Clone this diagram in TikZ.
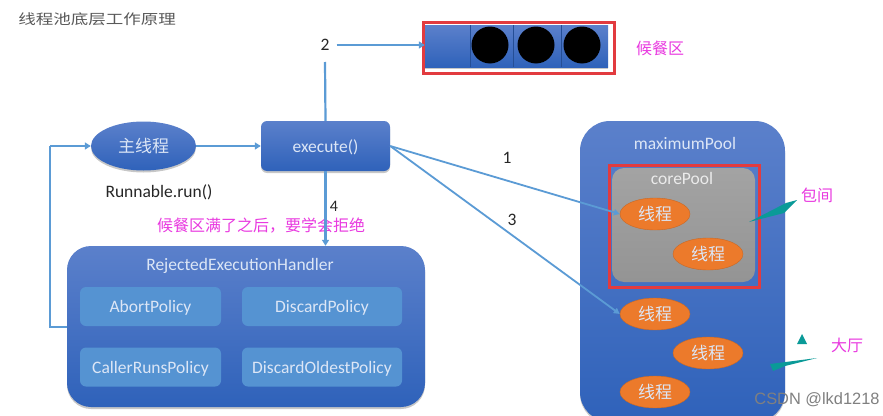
\documentclass[tikz,border=0pt]{standalone}
\usepackage{fontspec}
\setmainfont{Carlito}
\newfontfamily\cjk{Noto Sans CJK SC}
\usetikzlibrary{arrows.meta,shapes.geometric,shadows}
\definecolor{linkblue}{HTML}{5B9BD5}
\definecolor{bluetop}{HTML}{5B80CB}
\definecolor{bluebot}{HTML}{2F62BA}
\definecolor{subblue}{HTML}{5593D2}
\definecolor{orangeth}{HTML}{EC7A2B}
\definecolor{lightlabel}{HTML}{DCE6F6}
\definecolor{redframe}{HTML}{E23B3F}
\definecolor{pinklabel}{HTML}{E93AE0}
\definecolor{tealmark}{HTML}{0A9A98}
\tikzset{
  softshadow/.style={drop shadow={shadow xshift=0pt,shadow yshift=-2pt,opacity=.22,fill=black}},
  bluefill/.style={top color=bluetop,bottom color=bluebot,draw=none},
  blockbox/.style={bluefill,softshadow,rectangle,rounded corners=6pt,inner sep=0pt,text=lightlabel,text height=12pt,text depth=0pt,font=\fontsize{17.5}{18}\selectfont},
  policybox/.style={rectangle,rounded corners=6pt,fill=subblue,minimum width=#1,minimum height=39pt,inner sep=0pt,text=lightlabel,text height=12pt,text depth=0pt,font=\fontsize{17.5}{18}\selectfont},
  worker/.style={ellipse,fill=orangeth,draw=orangeth!85!black,line width=.4pt,minimum width=70pt,minimum height=32pt,inner sep=0pt,text=lightlabel,font=\cjk\fontsize{17}{17}\selectfont},
  frameboxr/.style={rectangle,draw=redframe,line width=3pt,fill=none,inner sep=0pt},
  link/.style={draw=linkblue,line width=2.2pt},
  linkarrow/.style={link,-{Triangle[length=6pt,width=7pt]}},
  thinarrow/.style={draw=linkblue,line width=1.8pt,-{Triangle[length=6pt,width=6pt]}},
  pinktext/.style={text=pinklabel,inner sep=0pt,font=\cjk\fontsize{16}{16}\selectfont},
  darktext/.style={text=black!85,inner sep=0pt,font=\fontsize{17.5}{18}\selectfont},
  headlabel/.style={text=lightlabel,inner sep=0pt,font=\fontsize{17.5}{18}\selectfont},
  token/.style={circle,fill=black,minimum size=37pt,inner sep=0pt},
  tealshape/.style={fill=tealmark,draw=none}
}
\begin{document}
\begin{tikzpicture}[x=1pt,y=-1pt]
\useasboundingbox (0,0) rectangle (883,415);
\clip (0,0) rectangle (883,415);
\fill[white] (0,0) rectangle (883,415);

\node[text=black!65,inner sep=0pt,font=\cjk\fontsize{17.5}{18}\selectfont,yscale=.8] (title) at (97,19) {线程池底层工作原理};

% queue
\node[rectangle,bluefill,softshadow,minimum width=183pt,minimum height=42pt,inner sep=0pt] (queue) at (516.5,46) {};
\draw[bluebot!80!black,line width=.6pt] (470,25) -- (470,67) (513,25) -- (513,67) (561,25) -- (561,67);
\node[token] (t1) at (490,45) {};
\node[token] (t2) at (536,45) {};
\node[token] (t3) at (582,45) {};
\node[frameboxr,minimum width=191pt,minimum height=51pt] (qframe) at (518.5,48) {};
\node[pinktext] (qlabel) at (660,48) {候餐区};

% main flow
\node[ellipse,bluefill,softshadow,minimum width=105pt,minimum height=49pt,inner sep=0pt,text=lightlabel,font=\cjk\fontsize{17}{17}\selectfont] (main) at (143.5,146) {主线程};
\node[blockbox,minimum width=129pt,minimum height=50pt] (exec) at (325.5,146) {execute()};
\node[darktext] (runnable) at (159,192) {Runnable.run()};
\node[darktext] (n2) at (325,45) {2};
\node[text=black!85,inner sep=0pt,font=\fontsize{16}{16}\selectfont] (n4) at (334,206) {4};
\node[darktext] (n1) at (507,158) {1};
\node[darktext] (n3) at (512,220) {3};
\node[pinktext] (reject) at (261,226) {候餐区满了之后，要学会拒绝};

% handler
\node[rectangle,bluefill,softshadow,rounded corners=24pt,minimum width=358pt,minimum height=161pt,inner sep=0pt] (handler) at (246,326.5) {};
\node[headlabel] (hlabel) at (240,266) {RejectedExecutionHandler};
\node[policybox=141pt] (abort) at (150.5,306.5) {AbortPolicy};
\node[policybox=160pt] (discard) at (322,306.5) {DiscardPolicy};
\node[policybox=141pt] (caller) at (150.5,367) {CallerRunsPolicy};
\node[policybox=160pt] (oldest) at (322,367) {DiscardOldestPolicy};

% maximum pool
\node[rectangle,bluefill,softshadow,rounded corners=30pt,minimum width=205pt,minimum height=301pt,inner sep=0pt] (maxpool) at (682.5,271.5) {};
\node[headlabel] (maxlabel) at (685,143) {maximumPool};
\node[rectangle,top color=black!36,bottom color=black!42,rounded corners=12pt,minimum width=143pt,minimum height=114pt,inner sep=0pt] (core) at (683.5,225) {};
\node[frameboxr,minimum width=150pt,minimum height=122pt] (cframe) at (684,226) {};
\node[headlabel,text=black!8] (corelabel) at (682,178) {corePool};
\node[worker] (w1) at (655,214) {线程};
\node[worker] (w2) at (708,254) {线程};
\node[worker] (w3) at (655,314) {线程};
\node[worker] (w4) at (708,353) {线程};
\node[worker] (w5) at (655,392) {线程};

% connectors
\draw[link] (n2.south |- 325,62) -- (exec.north);
\draw[linkarrow] (n2.east) ++(7,0) -- (queue.west |- n2.east);
\draw[linkarrow] (main.east) -- (exec.west);
\draw[linkarrow] (exec.south) -- (handler.north -| exec.south);
\coordinate (backcorner) at (50,327);
\coordinate (backtop) at (50,146);
\draw[link] (handler.west |- backcorner) -- (backcorner) -- (backtop);
\draw[linkarrow] (backtop) -- (main.west);
\draw[thinarrow] (exec.east) -- (w1.west);
\draw[thinarrow] (exec.east) -- (w3.west);

% annotations
\fill[tealshape] (749,222) -- (786,203) -- (797,200) -- (784,213) -- cycle;
\fill[tealshape] (770,364) -- (817,358) -- (785,366) -- (773,371) -- cycle;
\fill[tealshape] (797,344) -- (802,334) -- (807,344) -- cycle;
\node[pinktext] (pl1) at (817,195) {包间};
\node[pinktext] (pl2) at (847,345) {大厅};
\node[text=black!50,inner sep=0pt,font=\fontspec{Liberation Sans}\fontsize{16.4}{17}\selectfont] (mark) at (817,400) {CSDN @lkd1218};
\end{tikzpicture}
\end{document}
